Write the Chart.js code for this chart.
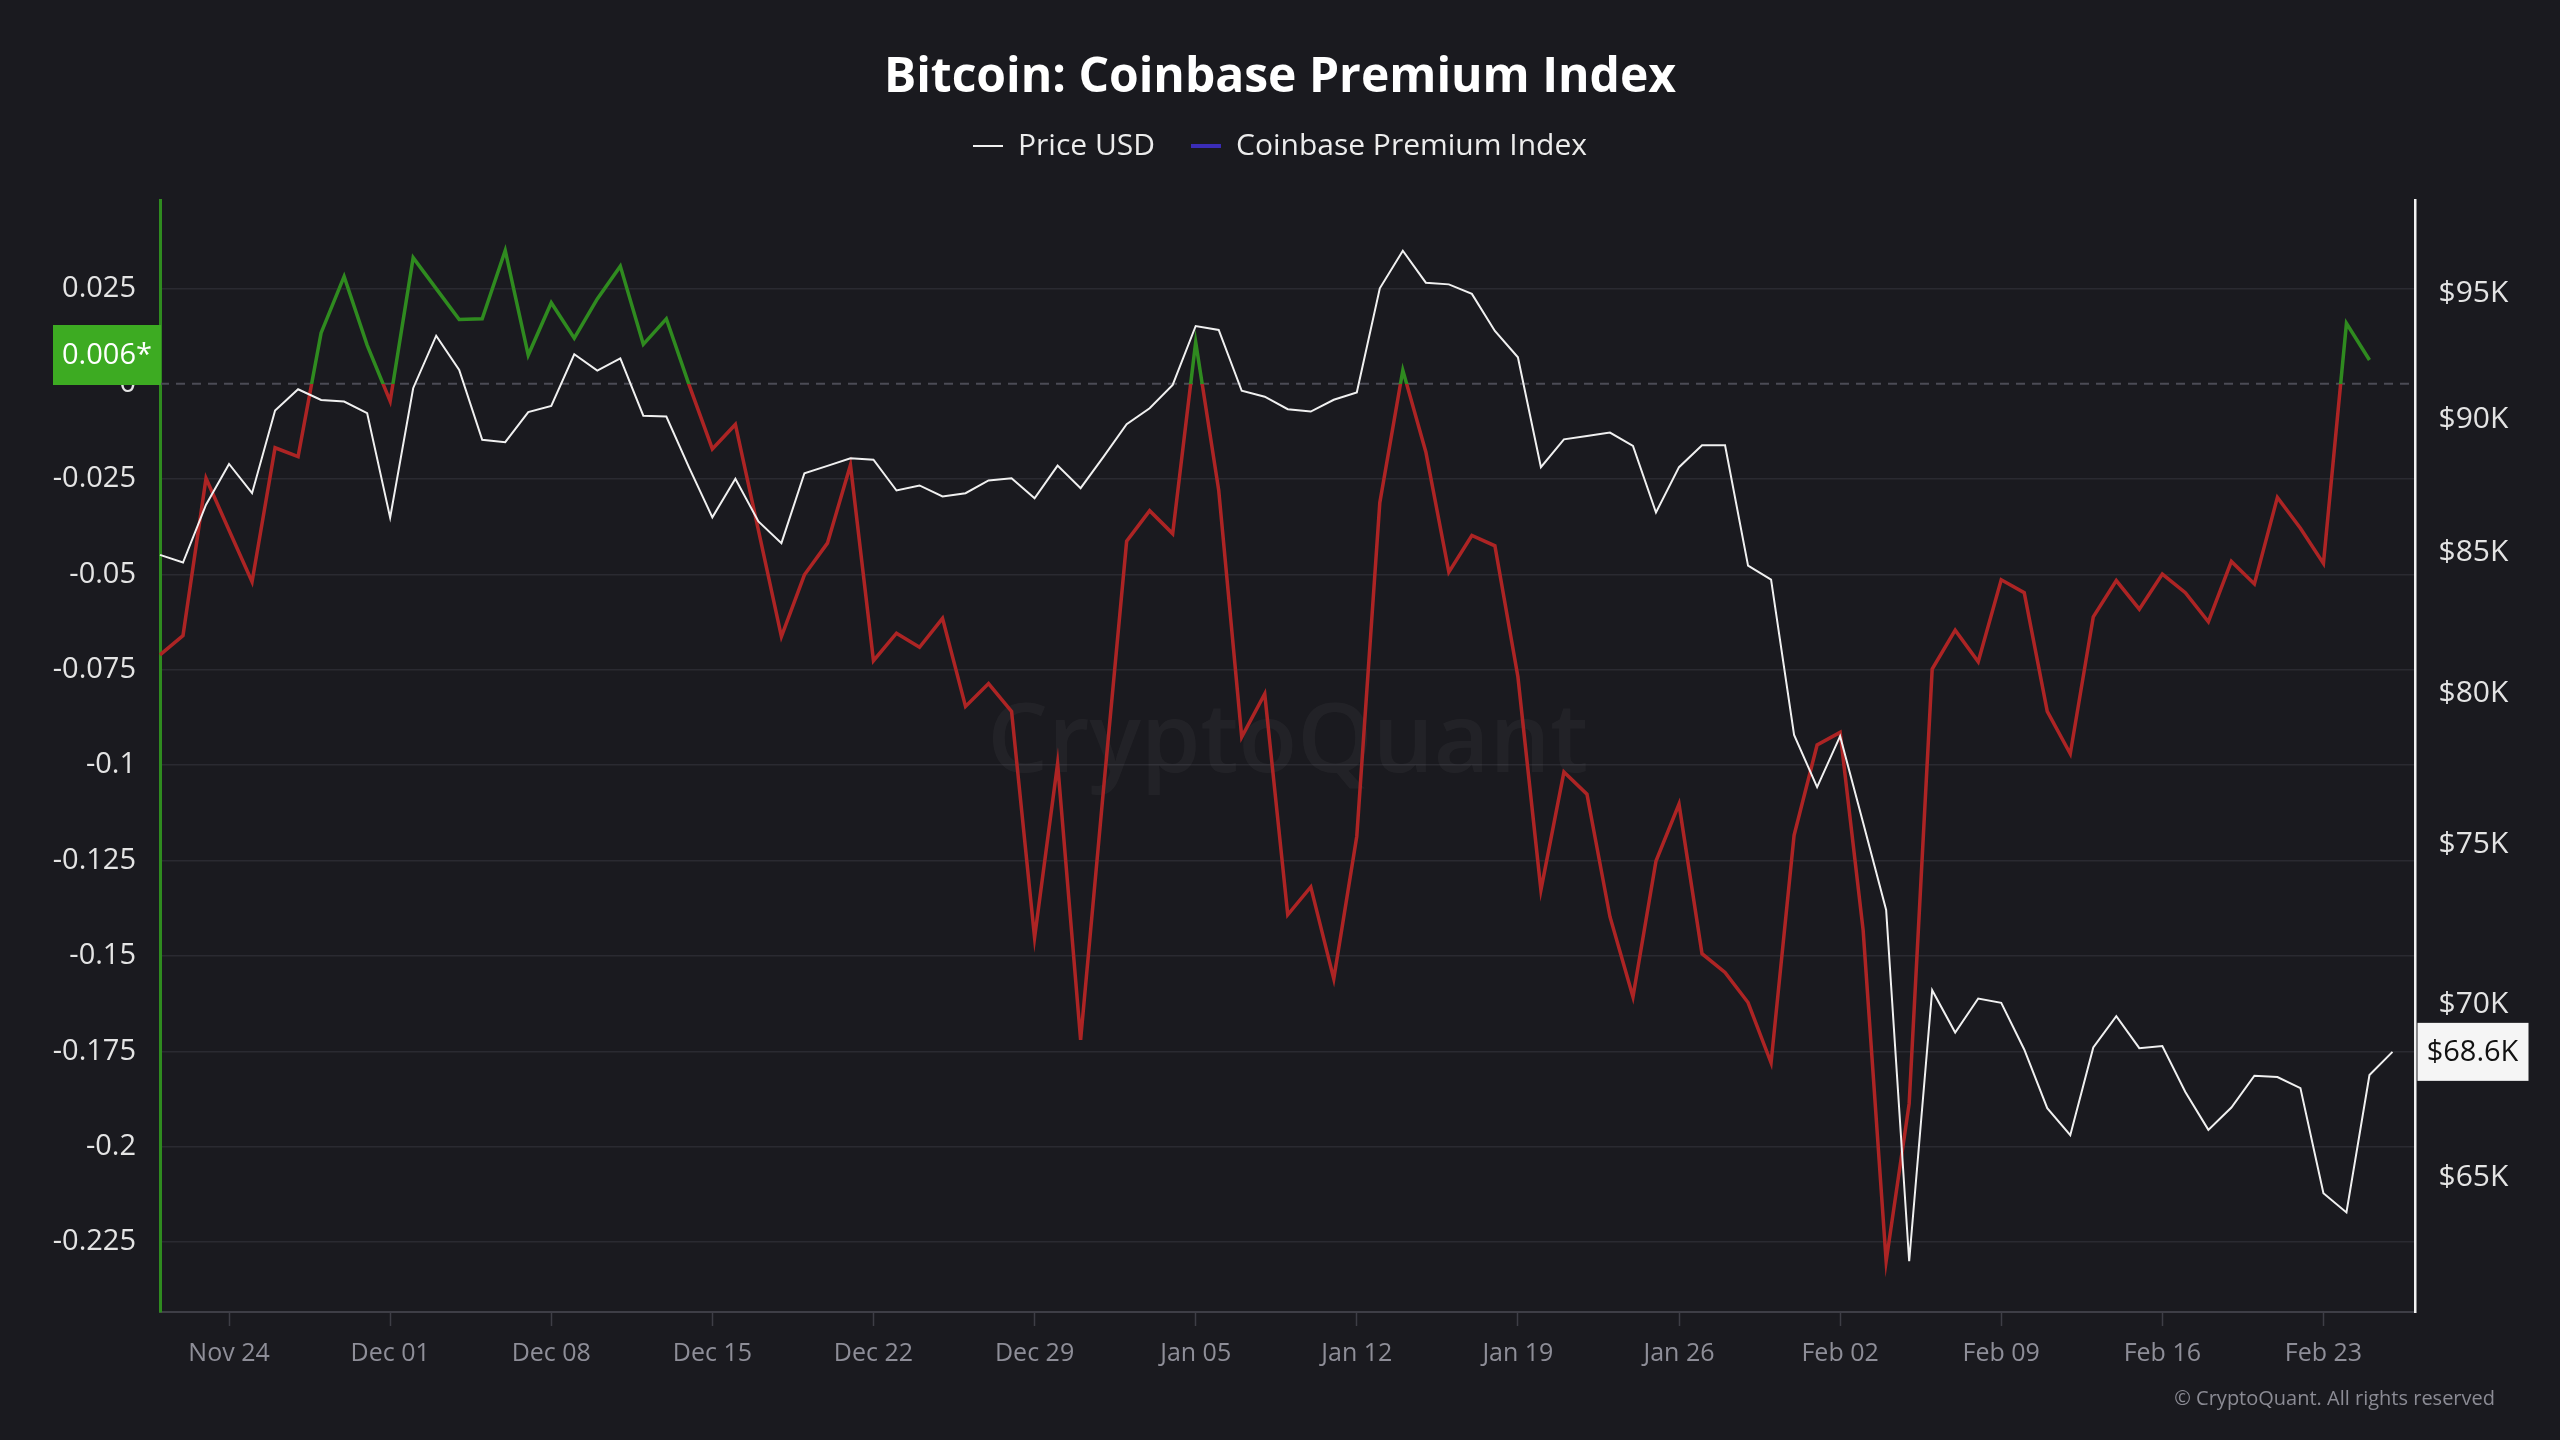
<!DOCTYPE html>
<html>
<head>
<meta charset="utf-8">
<title>Bitcoin: Coinbase Premium Index</title>
<script src="https://cdn.jsdelivr.net/npm/chart.js@4.4.1/dist/chart.umd.min.js"></script>
<style>
  html, body { margin: 0; padding: 0; background: #1a1a1f; }
  #wrap { width: 2560px; height: 1440px; position: relative; }
</style>
</head>
<body>
<div id="wrap"><canvas id="chart"></canvas></div>
<script>
// daily series from Nov 21, one label past the last price point (Feb 27)
const startDay = Date.UTC(2025, 10, 21);
const dayCount = 99;
const weekTicks = ['Nov 24', 'Dec 01', 'Dec 08', 'Dec 15', 'Dec 22', 'Dec 29', 'Jan 05',
  'Jan 12', 'Jan 19', 'Jan 26', 'Feb 02', 'Feb 09', 'Feb 16', 'Feb 23'];
const leftTicks = [0.025, 0, -0.025, -0.05, -0.075, -0.1, -0.125, -0.15, -0.175, -0.2, -0.225];
const rightTicks = [65000, 70000, 75000, 80000, 85000, 90000, 95000];

const priceUsd = [
  84920, 84640, 86770, 88300, 87200, 90350, 91180, 90760, 90700, 90250,
  86290, 91220, 93300, 91940, 89220, 89130, 90290, 90530, 92560, 91910,
  92400, 90150, 90120, 88140, 86300, 87740, 86150, 85350, 87950, 88230,
  88520, 88460, 87300, 87490, 87080, 87200, 87680, 87760, 87010, 88240,
  87390, 88580, 89820, 90440, 91350, 93690, 93530, 91120, 90890, 90400,
  90310, 90770, 91050, 95220, 96770, 95450, 95380, 94990, 93490, 92440,
  88180, 89240, 89370, 89500, 88990, 86480, 88180, 89010, 89010, 84530,
  84020, 78600, 76860, 78560, 75690, 72910, 62700, 70440, 69170, 70190,
  70060, 68670, 66960, 66190, 68730, 69660, 68710, 68770, 67430, 66340,
  66980, 67900, 67860, 67540, 64560, 64030, 67920, 68600
];

const premiumIndex = [
  -0.0711, -0.066, -0.0248, -0.0384, -0.0519, -0.0168, -0.0191, 0.0133, 0.0281, 0.0101,
  -0.0046, 0.033, 0.0249, 0.0168, 0.017, 0.0349, 0.0075, 0.0212, 0.0119, 0.0222,
  0.0308, 0.0103, 0.017, -0.0005, -0.0171, -0.0107, -0.0384, -0.0663, -0.0501, -0.0418,
  -0.0213, -0.0726, -0.0654, -0.0691, -0.0615, -0.0846, -0.0786, -0.0859, -0.1452, -0.0996,
  -0.172, -0.106, -0.0413, -0.0333, -0.0393, 0.0109, -0.0279, -0.0926, -0.0813, -0.1392,
  -0.1319, -0.156, -0.1186, -0.0312, 0.0035, -0.0179, -0.0494, -0.0398, -0.0425, -0.0768,
  -0.1327, -0.1018, -0.1076, -0.1397, -0.1607, -0.1251, -0.1102, -0.1494, -0.1543, -0.1622,
  -0.178, -0.1184, -0.0947, -0.0914, -0.1432, -0.23, -0.1887, -0.0748, -0.0646, -0.0729,
  -0.0514, -0.0548, -0.0859, -0.097, -0.0611, -0.0516, -0.0591, -0.0499, -0.0548, -0.0624,
  -0.0466, -0.0525, -0.0298, -0.0379, -0.0471, 0.0158, 0.0062
];

const MONTHS = ['Jan', 'Feb', 'Mar', 'Apr', 'May', 'Jun', 'Jul', 'Aug', 'Sep', 'Oct', 'Nov', 'Dec'];
const days = [];
for (let i = 0; i < dayCount; i++) {
  const d = new Date(startDay + i * 864e5);
  days.push(MONTHS[d.getUTCMonth()] + ' ' + String(d.getUTCDate()).padStart(2, '0'));
}

const BG = '#1a1a1f';
const FONT = '"Open Sans", sans-serif';
const GREEN = '#2f8b1f';
const RED = '#ad2424';
const TAG_GREEN = '#3dab22';
const GRID = '#2a2a31';
const AXIS_GRAY = '#3e3e46';

// green above zero, red below, split exactly on the zero pixel
function premiumStroke(c) {
  const { chart } = c;
  const area = chart.chartArea;
  if (!area) return RED;
  const y0 = chart.scales.y.getPixelForValue(0);
  const stop = Math.min(1, Math.max(0, (y0 - area.top) / (area.bottom - area.top)));
  const g = chart.ctx.createLinearGradient(0, area.top, 0, area.bottom);
  g.addColorStop(0, GREEN); g.addColorStop(stop, GREEN);
  g.addColorStop(stop, RED); g.addColorStop(1, RED);
  return g;
}

const decor = {
  id: 'decor',
  beforeInit(chart) {
    const fit = chart.legend.fit;
    chart.legend.fit = function () { fit.call(this); this.height += 29.5; };
  },
  beforeDraw(chart) {
    const { ctx, width, height } = chart;
    ctx.save();
    ctx.fillStyle = BG;
    ctx.fillRect(0, 0, width, height);
    ctx.restore();
  },
  beforeDatasetsDraw(chart) {
    const { ctx, chartArea: a, scales } = chart;
    ctx.save();
    ctx.font = '600 96px ' + FONT;
    ctx.fillStyle = 'rgba(255,255,255,0.04)';
    ctx.textAlign = 'center';
    ctx.textBaseline = 'middle';
    ctx.fillText('CryptoQuant', (a.left + a.right) / 2, (a.top + a.bottom) / 2 - 12);
    const y0 = scales.y.getPixelForValue(0);
    ctx.strokeStyle = '#4b4b55';
    ctx.lineWidth = 2;
    ctx.setLineDash([9, 7]);
    ctx.beginPath(); ctx.moveTo(a.left, y0); ctx.lineTo(a.right, y0); ctx.stroke();
    ctx.restore();
  },
  afterDraw(chart) {
    const { ctx, chartArea: a, scales } = chart;
    const lastPrem = premiumIndex[premiumIndex.length - 1];
    const lastPrice = priceUsd[priceUsd.length - 1];
    ctx.save();
    ctx.font = '29px ' + FONT;
    ctx.textAlign = 'center';
    ctx.textBaseline = 'middle';
    let y = scales.y.getPixelForValue(lastPrem) - 5;
    ctx.fillStyle = TAG_GREEN;
    ctx.fillRect(a.left - 107, y - 30, 108, 60);
    ctx.fillStyle = '#ffffff';
    ctx.fillText(lastPrem.toFixed(3) + '*', a.left - 53, y + 1);
    y = scales.y1.getPixelForValue(lastPrice);
    ctx.fillStyle = '#f5f5f5';
    ctx.fillRect(a.right + 2, y - 29, 111, 58);
    ctx.fillStyle = '#111111';
    ctx.fillText('$' + (lastPrice / 1000).toFixed(1) + 'K', a.right + 57, y + 1);
    ctx.font = '20px ' + FONT;
    ctx.textAlign = 'right';
    ctx.fillStyle = '#8b8b94';
    ctx.fillText('\u00a9 CryptoQuant. All rights reserved', 2495, 1399);
    ctx.restore();
  }
};

new Chart(document.getElementById('chart'), {
  type: 'line',
  data: {
    labels: days,
    datasets: [
      { label: 'Price USD', data: priceUsd, yAxisID: 'y1', borderColor: '#f0f0f0', borderWidth: 2 },
      { label: 'Coinbase Premium Index', data: premiumIndex, yAxisID: 'y', borderColor: premiumStroke, borderWidth: 3.5 }
    ]
  },
  options: {
    responsive: true, maintainAspectRatio: false, animation: false,
    layout: { padding: 0 },
    elements: { point: { radius: 0 }, line: { tension: 0 } },
    plugins: {
      tooltip: { enabled: false },
      title: {
        display: true, text: 'Bitcoin: Coinbase Premium Index', color: '#ffffff',
        font: { family: FONT, size: 48, weight: 'bold', lineHeight: 1 },
        padding: { top: 54, bottom: -7 }
      },
      legend: {
        position: 'top',
        labels: {
          color: '#ececec', font: { family: FONT, size: 30 }, padding: 36,
          usePointStyle: true, pointStyle: 'line', pointStyleWidth: 30,
          generateLabels: chart => {
            const items = Chart.defaults.plugins.legend.labels.generateLabels(chart);
            items[0].lineWidth = 2;
            items[1].strokeStyle = '#3b2db8';
            items[1].lineWidth = 4;
            return items;
          }
        }
      }
    },
    scales: {
      x: {
        type: 'category',
        grid: { drawOnChartArea: false, color: AXIS_GRAY, tickLength: 14, tickWidth: 1.5 },
        border: { color: AXIS_GRAY, width: 2 },
        ticks: {
          autoSkip: false, maxRotation: 0, padding: 13, color: '#8e8e98',
          font: { family: FONT, size: 25 },
          callback: (v, i) => weekTicks.includes(days[i]) ? days[i] : null
        },
        afterFit: s => { s.height = 128; }
      },
      y: {
        position: 'left', min: -0.2433, max: 0.048,
        afterBuildTicks: s => { s.ticks = leftTicks.map(v => ({ value: v })); },
        grid: { color: c => (c.tick && c.tick.value === 0) ? 'rgba(0,0,0,0)' : GRID, lineWidth: 1.5, drawTicks: false },
        border: { color: GREEN, width: 3 },
        ticks: {
          color: '#e4e4e4', padding: 24, font: { family: FONT, size: 29 },
          callback: v => v === 0 ? '0' : String(+v.toFixed(3))
        },
        afterFit: s => { s.width = 160; }
      },
      y1: {
        type: 'logarithmic', position: 'right', min: 61349, max: 98878,
        afterBuildTicks: s => { s.ticks = rightTicks.map(v => ({ value: v })); },
        grid: { drawOnChartArea: false, drawTicks: false },
        border: { color: '#f2f2f2', width: 2.5 },
        ticks: {
          color: '#e4e4e4', padding: 23, font: { family: FONT, size: 30 },
          callback: v => '$' + v / 1000 + 'K'
        },
        afterFit: s => { s.width = 144.5; }
      }
    }
  },
  plugins: [decor]
});
</script>
</body>
</html>
